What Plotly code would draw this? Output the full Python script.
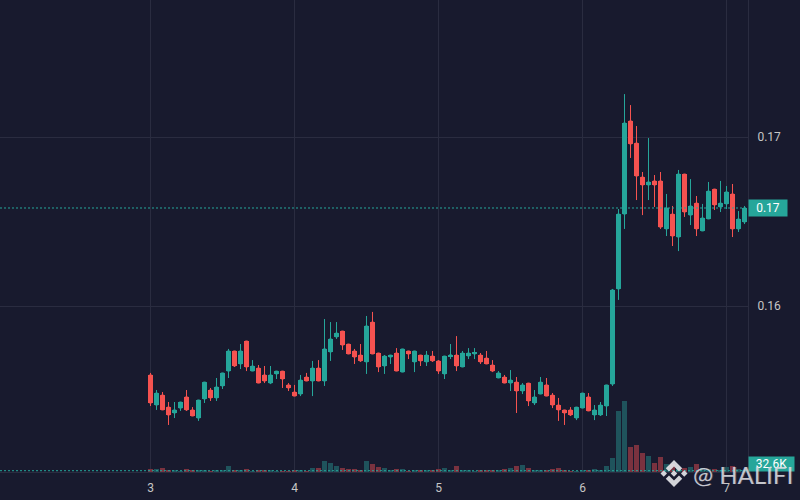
import pandas as pd
import plotly.graph_objects as go

# hourly candles
times = pd.date_range("2023-03-03", periods=100, freq="h")

opens = [0.15592, 0.15414, 0.15473, 0.15402, 0.15367, 0.15396, 0.15462, 0.15385, 0.15337, 0.15450,
         0.15503, 0.15456, 0.15527, 0.15615, 0.15734, 0.15657, 0.15793, 0.15615, 0.15633, 0.15592,
         0.15544, 0.15598, 0.15615, 0.15533, 0.15491, 0.15479, 0.15580, 0.15556, 0.15633, 0.15556,
         0.15728, 0.15817, 0.15852, 0.15775, 0.15734, 0.15710, 0.15669, 0.15905, 0.15722, 0.15645,
         0.15698, 0.15722, 0.15609, 0.15734, 0.15669, 0.15710, 0.15669, 0.15704, 0.15675, 0.15598,
         0.15704, 0.15710, 0.15639, 0.15704, 0.15716, 0.15710, 0.15692, 0.15651, 0.15574, 0.15580,
         0.15544, 0.15550, 0.15497, 0.15544, 0.15426, 0.15479, 0.15533, 0.15473, 0.15414, 0.15385,
         0.15385, 0.15337, 0.15396, 0.15462, 0.15355, 0.15355, 0.15408, 0.15538, 0.16101, 0.16544,
         0.17095, 0.16964, 0.16763, 0.16716, 0.16740, 0.16740, 0.16456, 0.16544, 0.16408, 0.16781,
         0.16538, 0.16609, 0.16444, 0.16515, 0.16692, 0.16586, 0.16604, 0.16663, 0.16456, 0.16497]
highs = [0.15604, 0.15503, 0.15491, 0.15432, 0.15432, 0.15432, 0.15503, 0.15402, 0.15444, 0.15550,
         0.15515, 0.15574, 0.15604, 0.15746, 0.15734, 0.15775, 0.15793, 0.15680, 0.15651, 0.15645,
         0.15645, 0.15615, 0.15615, 0.15544, 0.15533, 0.15592, 0.15604, 0.15675, 0.15680, 0.15923,
         0.15905, 0.15905, 0.15852, 0.15775, 0.15746, 0.15775, 0.15941, 0.15965, 0.15722, 0.15710,
         0.15710, 0.15751, 0.15746, 0.15734, 0.15734, 0.15710, 0.15734, 0.15734, 0.15680, 0.15704,
         0.15775, 0.15822, 0.15734, 0.15751, 0.15751, 0.15722, 0.15734, 0.15680, 0.15615, 0.15592,
         0.15621, 0.15580, 0.15544, 0.15544, 0.15503, 0.15580, 0.15574, 0.15485, 0.15456, 0.15385,
         0.15402, 0.15402, 0.15485, 0.15485, 0.15414, 0.15432, 0.15533, 0.16101, 0.16574, 0.17254,
         0.17189, 0.17065, 0.16793, 0.16994, 0.16775, 0.16793, 0.16663, 0.16592, 0.16805, 0.16781,
         0.16751, 0.16651, 0.16604, 0.16734, 0.16692, 0.16740, 0.16710, 0.16722, 0.16562, 0.16592]
lows = [0.15408, 0.15385, 0.15385, 0.15296, 0.15337, 0.15379, 0.15379, 0.15349, 0.15320, 0.15426,
        0.15438, 0.15438, 0.15509, 0.15574, 0.15639, 0.15627, 0.15615, 0.15615, 0.15544, 0.15544,
        0.15538, 0.15568, 0.15515, 0.15497, 0.15467, 0.15467, 0.15556, 0.15467, 0.15556, 0.15527,
        0.15675, 0.15805, 0.15740, 0.15716, 0.15657, 0.15669, 0.15598, 0.15716, 0.15609, 0.15598,
        0.15657, 0.15615, 0.15609, 0.15686, 0.15609, 0.15645, 0.15645, 0.15669, 0.15598, 0.15568,
        0.15686, 0.15615, 0.15639, 0.15686, 0.15686, 0.15657, 0.15657, 0.15609, 0.15574, 0.15544,
        0.15497, 0.15367, 0.15479, 0.15408, 0.15414, 0.15479, 0.15467, 0.15396, 0.15320, 0.15296,
        0.15349, 0.15325, 0.15396, 0.15379, 0.15325, 0.15349, 0.15349, 0.15527, 0.16036, 0.16456,
        0.16876, 0.16627, 0.16538, 0.16627, 0.16586, 0.16456, 0.16414, 0.16355, 0.16325, 0.16527,
        0.16479, 0.16414, 0.16444, 0.16515, 0.16568, 0.16556, 0.16574, 0.16408, 0.16438, 0.16485]
closes = [0.15426, 0.15485, 0.15385, 0.15355, 0.15385, 0.15432, 0.15385, 0.15349, 0.15444, 0.15550,
          0.15456, 0.15521, 0.15604, 0.15734, 0.15645, 0.15734, 0.15639, 0.15645, 0.15544, 0.15556,
          0.15592, 0.15615, 0.15568, 0.15515, 0.15467, 0.15562, 0.15556, 0.15633, 0.15556, 0.15746,
          0.15805, 0.15840, 0.15769, 0.15716, 0.15698, 0.15675, 0.15882, 0.15716, 0.15639, 0.15704,
          0.15710, 0.15615, 0.15746, 0.15716, 0.15734, 0.15675, 0.15710, 0.15675, 0.15615, 0.15704,
          0.15710, 0.15645, 0.15722, 0.15722, 0.15722, 0.15669, 0.15657, 0.15615, 0.15604, 0.15544,
          0.15562, 0.15497, 0.15533, 0.15438, 0.15462, 0.15550, 0.15467, 0.15414, 0.15385, 0.15367,
          0.15355, 0.15402, 0.15485, 0.15379, 0.15385, 0.15414, 0.15533, 0.16095, 0.16544, 0.17083,
          0.16959, 0.16769, 0.16716, 0.16734, 0.16716, 0.16467, 0.16580, 0.16414, 0.16781, 0.16556,
          0.16592, 0.16456, 0.16521, 0.16680, 0.16598, 0.16609, 0.16675, 0.16456, 0.16515, 0.16580]
volumes_k = [75, 75, 100, 50, 50, 25, 75, 50, 50, 50,
             25, 50, 50, 150, 50, 50, 75, 25, 50, 50,
             50, 25, 25, 25, 50, 50, 25, 100, 100, 275,
             225, 150, 100, 75, 75, 50, 275, 200, 125, 100,
             50, 75, 75, 25, 50, 50, 50, 50, 75, 100,
             50, 150, 50, 50, 25, 50, 50, 50, 50, 75,
             100, 150, 175, 100, 50, 50, 50, 75, 100, 50,
             25, 25, 50, 50, 75, 50, 150, 350, 1525, 1775,
             625, 675, 475, 400, 225, 375, 200, 200, 125, 100,
             125, 200, 100, 75, 75, 50, 125, 150, 75, 32.6]

day_ticks = ["2023-03-03", "2023-03-04", "2023-03-05", "2023-03-06", "2023-03-07"]
day_labels = ["3", "4", "5", "6", "7"]
price_ticks = [0.16, 0.17]
last_price_label = "0.17"
last_volume_label = "32.6K"
watermark = "@ HALIFI"

BG = "#181a2e"
GRID = "#2a2c40"
UP = "#26a69a"
DOWN = "#f55350"
UP_VOL = "#1f535c"
DOWN_VOL = "#7a323f"
TICK = "#c6c6c6"

# plot area in pixels, used for the logo and text that sit over the margin
PW, PH = 748, 472
BAR_MS = 3000000  # 5/6 of an hour, gives 5px bodies


def px(x, y):
    return x / PW, (PH - y) / PH


def poly(points, cx=674, cy=473.5, r=13.5):
    parts = []
    for i, (a, b) in enumerate(points):
        xp, yp = px(cx + a * r, cy - b * r)
        parts.append(("M" if i == 0 else "L") + f"{xp:.5f},{yp:.5f}")
    return " ".join(parts) + " Z"


def diamond(a, b, d=0.24):
    return [(a, b + d), (a + d, b), (a, b - d), (a - d, b)]


chevron = [(0, 1), (0.61, 0.39), (0.37, 0.15), (0, 0.52), (-0.37, 0.15), (-0.61, 0.39)]
logo = [chevron, [(a, -b) for a, b in chevron], diamond(0, 0), diamond(-0.76, 0), diamond(0.76, 0)]

body_colors = [UP if c >= o else DOWN for o, c in zip(opens, closes)]
vol_colors = [UP_VOL if c >= o else DOWN_VOL for o, c in zip(opens, closes)]
body_base = [min(o, c) for o, c in zip(opens, closes)]
body_size = [abs(c - o) for o, c in zip(opens, closes)]

fig = go.Figure()
# bars give the square bodies, the candlestick on top brings the wicks
fig.add_trace(go.Bar(x=times, y=body_size, base=body_base, width=BAR_MS,
                     marker=dict(color=body_colors, line=dict(width=0)),
                     hoverinfo="skip", showlegend=False))
fig.add_trace(go.Candlestick(x=times, open=opens, high=highs, low=lows, close=closes,
                             increasing=dict(line=dict(color=UP, width=1), fillcolor=UP),
                             decreasing=dict(line=dict(color=DOWN, width=1), fillcolor=DOWN),
                             whiskerwidth=0, hoverinfo="skip", showlegend=False))
fig.add_trace(go.Bar(x=times, y=volumes_k, yaxis="y2", width=BAR_MS,
                     marker=dict(color=vol_colors, line=dict(width=0)),
                     hoverinfo="skip", showlegend=False))

shapes = [
    dict(type="line", xref="paper", x0=0, x1=1, yref="y", y0=closes[-1], y1=closes[-1],
         line=dict(color=UP, width=1, dash="2px,2px")),
    dict(type="line", xref="paper", x0=0, x1=1, yref="y2", y0=volumes_k[-1], y1=volumes_k[-1],
         line=dict(color=UP, width=1, dash="2px,2px")),
]
for pts in logo:
    shapes.append(dict(type="path", xref="paper", yref="paper", path=poly(pts), layer="above",
                       fillcolor="rgba(228,228,232,0.92)", line=dict(width=0)))

fig.update_layout(
    width=800, height=500, autosize=False,
    margin=dict(l=0, r=52, t=0, b=28),
    paper_bgcolor=BG, plot_bgcolor=BG,
    font=dict(family="Roboto", size=12, color=TICK),
    boxmode="overlay", boxgap=0.6, boxgroupgap=0, barmode="overlay",
    hovermode=False, showlegend=False,
    xaxis=dict(type="date",
               range=[times[0] - pd.Timedelta(minutes=1505), times[-1] + pd.Timedelta(minutes=35)],
               rangeslider=dict(visible=False), tickmode="array", tickvals=day_ticks, ticktext=day_labels,
               showgrid=True, gridcolor=GRID, gridwidth=1, showline=True, linecolor=GRID, linewidth=1,
               zeroline=False, ticks="", tickfont=dict(size=12, color=TICK), ticklabelstandoff=5),
    yaxis=dict(range=[0.150178, 0.178107], side="right", tickmode="array", tickvals=price_ticks,
               tickformat=".2f", showgrid=True, gridcolor=GRID, gridwidth=1, showline=True,
               linecolor=GRID, linewidth=1, zeroline=False, ticks="", ticklabelstandoff=6,
               tickfont=dict(size=12, color=TICK)),
    yaxis2=dict(range=[0, 11800], overlaying="y", side="right", visible=False),
    shapes=shapes,
    annotations=[
        dict(xref="paper", x=1, xanchor="left", yref="y", y=closes[-1], yanchor="middle",
             text=last_price_label, showarrow=False, width=38, height=16, bgcolor=UP, borderpad=0,
             font=dict(family="Roboto", size=12, color="#ffffff")),
        dict(xref="paper", x=1, xanchor="left", yref="y2", y=0, yanchor="bottom",
             text=last_volume_label, showarrow=False, width=45, height=14, bgcolor=UP, borderpad=0,
             font=dict(family="Roboto", size=12, color="#ffffff")),
        dict(xref="paper", x=px(691, 474)[0], xanchor="left", yref="paper", y=px(691, 474)[1], yanchor="middle",
             text=watermark, showarrow=False,
             font=dict(family="Lato", size=24, color="rgba(222,222,228,0.85)",
                       shadow="1px 0 0 rgba(200,200,205,0.3)")),
    ],
)

fig.write_html("out.html", config=dict(displayModeBar=False),
               post_script="document.body.style.margin='0';")
